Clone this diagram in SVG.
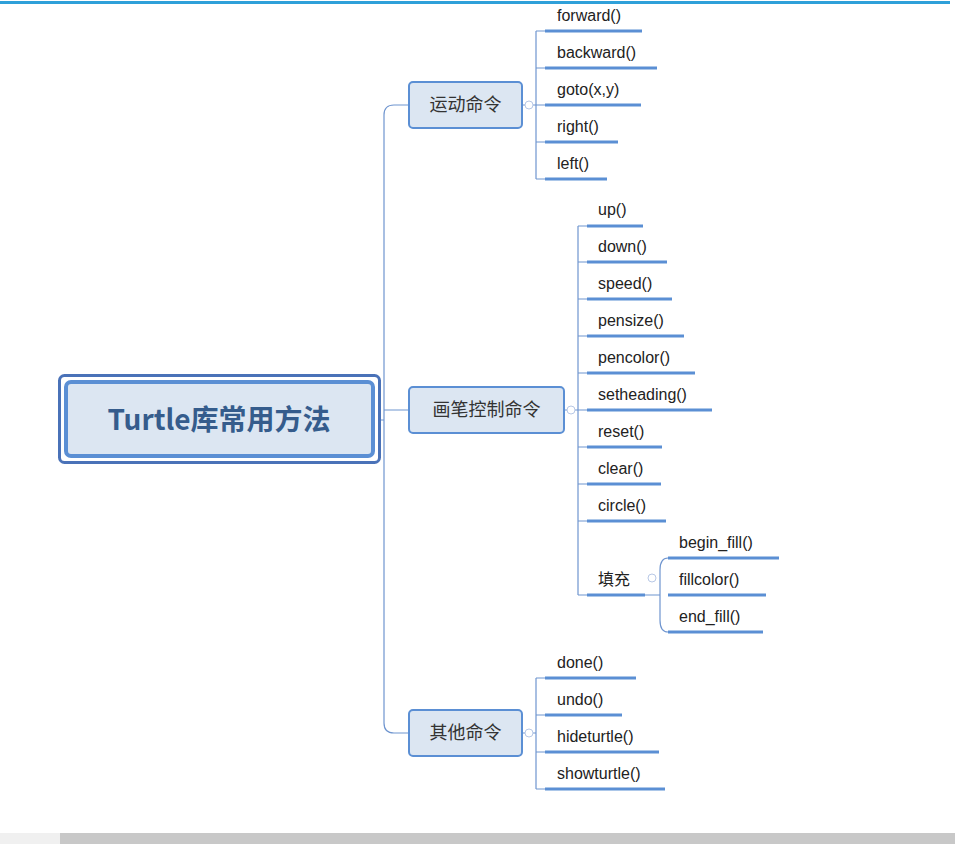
<svg xmlns="http://www.w3.org/2000/svg" width="955" height="844" viewBox="0 0 955 844">
<style>
.ln{fill:none;stroke:#6f95cf;stroke-width:1.2}
.ul{stroke:#5b8fd4;stroke-width:3}
.br rect{fill:#dce6f2;stroke:#5b8fd4;stroke-width:2}
.bt{font-family:"Noto Sans CJK SC","Liberation Sans",sans-serif;font-size:18px;fill:#333;text-anchor:middle}
.lt{font-family:"Liberation Sans","Noto Sans CJK SC",sans-serif;font-size:16px;fill:#222}
.cc{fill:#fff;stroke:#b8c8e6;stroke-width:1}
</style>
<rect width="955" height="844" fill="#fff"/>
<rect x="0" y="1" width="950" height="3" fill="#2fa0d9"/>
<rect x="0" y="833" width="60" height="11" fill="#f0f0f0"/>
<rect x="60" y="833" width="895" height="11" fill="#c8c8c8"/>
<g id="connectors">
<path class="ln" d="M373 420 H384 M384 420 V115 Q384 105 394 105 H409 M384 410 H409 M384 420 V723 Q384 733 394 733 H409"/>
<path class="ln" d="M522 105 H536 M536 31 V179 M536 31 H545 M536 68 H545 M536 105 H545 M536 142 H545 M536 179 H545"/>
<path class="ln" d="M564 410 H578 M578 226 V595 M578 226 H587 M578 262 H587 M578 299 H587 M578 336 H587 M578 373 H587 M578 410 H587 M578 447 H587 M578 484 H587 M578 521 H587 M578 595 H587"/>
<path class="ln" d="M645 595 H660 M668 558 Q660 558 660 570 V620 Q660 632 668 632"/>
<path class="ln" d="M522 733 H536 M536 678 V789 M536 678 H545 M536 715 H545 M536 752 H545 M536 789 H545"/>
<circle class="cc" cx="529" cy="105" r="4"/><circle class="cc" cx="571" cy="410" r="4"/><circle class="cc" cx="652" cy="578" r="4"/><circle class="cc" cx="529" cy="733" r="4"/>
</g>
<g id="root">
<rect x="59.5" y="375.5" width="320" height="87" rx="5" fill="#fff" stroke="#4a72b8" stroke-width="3"/>
<rect x="66" y="382" width="307" height="74" rx="5" fill="#dce6f2" stroke="#5b8fd4" stroke-width="4"/>
<text x="219" y="430" text-anchor="middle" font-family="'Noto Sans CJK SC','Liberation Sans',sans-serif" font-size="28" font-weight="bold" fill="#355c8c">Turtle库常用方法</text>
</g>
<g id="b1" class="br"><rect x="409" y="82" width="113" height="46" rx="4"/><text class="bt" x="465.5" y="111">运动命令</text></g>
<g id="b2" class="br"><rect x="409" y="387" width="155" height="46" rx="4"/><text class="bt" x="486.5" y="416">画笔控制命令</text></g>
<g id="b3" class="br"><rect x="409" y="710" width="113" height="46" rx="4"/><text class="bt" x="465.5" y="739">其他命令</text></g>
<g id="leaves1">
<text class="lt" x="557" y="21">forward()</text><line class="ul" x1="545" y1="31" x2="642" y2="31"/>
<text class="lt" x="557" y="58">backward()</text><line class="ul" x1="545" y1="68" x2="657" y2="68"/>
<text class="lt" x="557" y="95">goto(x,y)</text><line class="ul" x1="545" y1="105" x2="641" y2="105"/>
<text class="lt" x="557" y="132">right()</text><line class="ul" x1="545" y1="142" x2="618" y2="142"/>
<text class="lt" x="557" y="169">left()</text><line class="ul" x1="545" y1="179" x2="607" y2="179"/>
</g>
<g id="leaves2">
<text class="lt" x="598" y="215">up()</text><line class="ul" x1="587" y1="226" x2="643" y2="226"/>
<text class="lt" x="598" y="252">down()</text><line class="ul" x1="587" y1="262" x2="667" y2="262"/>
<text class="lt" x="598" y="289">speed()</text><line class="ul" x1="587" y1="299" x2="672" y2="299"/>
<text class="lt" x="598" y="326">pensize()</text><line class="ul" x1="587" y1="336" x2="684" y2="336"/>
<text class="lt" x="598" y="363">pencolor()</text><line class="ul" x1="587" y1="373" x2="695" y2="373"/>
<text class="lt" x="598" y="400">setheading()</text><line class="ul" x1="587" y1="410" x2="712" y2="410"/>
<text class="lt" x="598" y="437">reset()</text><line class="ul" x1="587" y1="447" x2="662" y2="447"/>
<text class="lt" x="598" y="474">clear()</text><line class="ul" x1="587" y1="484" x2="661" y2="484"/>
<text class="lt" x="598" y="511">circle()</text><line class="ul" x1="587" y1="521" x2="666" y2="521"/>
<text class="lt" x="598" y="585" font-family="'Noto Sans CJK SC',sans-serif">填充</text><line class="ul" x1="587" y1="595" x2="645" y2="595"/>
</g>
<g id="leaves3">
<text class="lt" x="679" y="548">begin_fill()</text><line class="ul" x1="668" y1="558" x2="779" y2="558"/>
<text class="lt" x="679" y="585">fillcolor()</text><line class="ul" x1="668" y1="595" x2="766" y2="595"/>
<text class="lt" x="679" y="622">end_fill()</text><line class="ul" x1="668" y1="632" x2="763" y2="632"/>
</g>
<g id="leaves4">
<text class="lt" x="557" y="668">done()</text><line class="ul" x1="545" y1="678" x2="636" y2="678"/>
<text class="lt" x="557" y="705">undo()</text><line class="ul" x1="545" y1="715" x2="622" y2="715"/>
<text class="lt" x="557" y="742">hideturtle()</text><line class="ul" x1="545" y1="752" x2="659" y2="752"/>
<text class="lt" x="557" y="779">showturtle()</text><line class="ul" x1="545" y1="789" x2="665" y2="789"/>
</g>
</svg>
